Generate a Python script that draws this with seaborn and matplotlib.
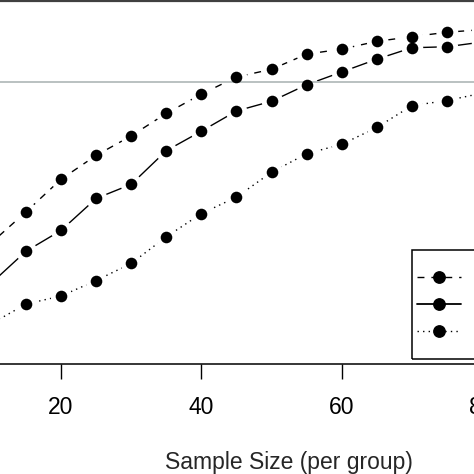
import pandas as pd
import matplotlib.pyplot as plt
import seaborn as sns
from matplotlib.lines import Line2D
from matplotlib.patches import Rectangle

# power by sample size for three effect sizes
sample_size = [10, 15, 20, 25, 30, 35, 40, 45, 50, 55, 60, 65, 70, 75, 80]
power_large = [0.32, 0.413, 0.510, 0.581, 0.639, 0.706, 0.763, 0.814, 0.837,
               0.882, 0.897, 0.920, 0.934, 0.947, 0.955]
power_medium = [0.20, 0.296, 0.358, 0.453, 0.495, 0.595, 0.653, 0.713, 0.742,
                0.791, 0.829, 0.867, 0.901, 0.904, 0.918]
power_small = [0.08, 0.139, 0.163, 0.209, 0.260, 0.339, 0.408, 0.457, 0.531,
               0.586, 0.614, 0.664, 0.729, 0.744, 0.766]
series_labels = ["Large effect", "Medium effect", "Small effect"]
target_power = 0.8

df = pd.DataFrame({
    "n": sample_size * 3,
    "power": power_large + power_medium + power_small,
    "effect": sum([[lab] * len(sample_size) for lab in series_labels], []),
})

sns.set_theme(style="white")
plt.rcParams["font.family"] = ["Liberation Sans", "DejaVu Sans"]

fig = plt.figure(figsize=(4.74, 4.74), dpi=100)
# the plot region runs past the left and right edges of the picture
ax = fig.add_axes([-0.1496, 0.2314, 1.519, 0.7665])

dashes = {series_labels[0]: (5, 5), series_labels[1]: "", series_labels[2]: (1, 3)}
sns.lineplot(data=df, x="n", y="power", hue="effect", style="effect",
             palette=["black"] * 3, dashes=dashes, linewidth=1.0,
             legend=False, ax=ax, zorder=2)
# white halo gives the gaps of an R type="b" line
sns.scatterplot(data=df, x="n", y="power", color="white", s=240,
                linewidth=0, legend=False, ax=ax, zorder=3)
ax.axhline(target_power, color="#b4bcbc", linewidth=1.3, zorder=4)
sns.scatterplot(data=df, x="n", y="power", color="black", s=70,
                linewidth=0, legend=False, ax=ax, zorder=5)

ax.set_xlim(1.2, 103.8)
ax.set_ylim(-0.04, 1.04)
ax.set_xticks([20, 40, 60, 80, 100])
ax.set_yticks([])
ax.tick_params(axis="x", bottom=True, length=10.5, width=1.0, direction="out",
               pad=12.5, labelsize=16.5, colors="black")
ax.set_xlabel("Sample Size (per group)", fontsize=16.5, labelpad=22.8)
ax.set_ylabel("")
for side in ax.spines.values():
    side.set_color("black")
    side.set_linewidth(1.1)
ax.spines["top"].set_color("#404040")
ax.spines["top"].set_linewidth(1.6)

handles = [
    Line2D([], [], color="black", linestyle=(0, (5, 5)), linewidth=1.0,
           marker="o", markersize=8.2, label=series_labels[0]),
    Line2D([], [], color="black", linestyle="-", linewidth=1.3,
           marker="o", markersize=8.2, label=series_labels[1]),
    Line2D([], [], color="black", linestyle=(0, (1, 3)), linewidth=1.0,
           marker="o", markersize=8.2, label=series_labels[2]),
]
ax.legend(handles=handles, loc="upper left", frameon=False,
          bbox_to_anchor=(417 / 474, 1 - 267 / 474),
          bbox_transform=fig.transFigure, borderpad=0, borderaxespad=0,
          handlelength=1.9, handletextpad=0.6, labelspacing=0.18,
          numpoints=1, fontsize=16.5)
fig.patches.append(Rectangle((411.7 / 474, 1 - 359.3 / 474), 0.3, 109.3 / 474,
                             transform=fig.transFigure, fill=False,
                             edgecolor="black", linewidth=1.1))

fig.savefig("out.png", dpi=100)
plt.close(fig)
